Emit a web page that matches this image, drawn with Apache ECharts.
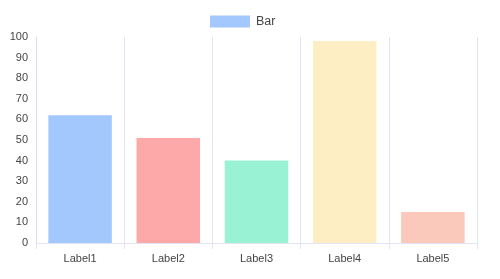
<!DOCTYPE html>
<html><head><meta charset="utf-8">
<script src="https://cdn.jsdelivr.net/npm/echarts@6/dist/echarts.min.js"></script>
<style>html,body{margin:0;padding:0;background:#fff}#c{width:500px;height:279px}</style>
</head><body><div id="c"></div>
<script>
const categories = ['Label1','Label2','Label3','Label4','Label5'];
const values = [62, 51, 40, 98, 15];
const colors = ['#a3c8fe','#fea9a9','#98f2d3','#fdefc3','#fbc9bb'];
const yTicks = [0,10,20,30,40,50,60,70,80,90,100];
const chart = echarts.init(document.getElementById('c'), null, {renderer:'canvas'});
chart.setOption({
  animation:false,
  legend:{top:15,left:210,padding:0,itemWidth:40,itemHeight:12,itemGap:6,
    icon:'rect',
    textStyle:{color:'#444',fontSize:12.5,padding:[0,0,0,1],fontFamily:'Liberation Sans, Arial'},
    data:[{name:'Bar',itemStyle:{color:colors[0]}}]},
  grid:{left:36,right:23,top:37,bottom:36,containLabel:false},
  xAxis:{type:'category',data:categories,
    axisLine:{lineStyle:{color:'#e4e4f6'}},
    axisTick:{show:true,length:6,lineStyle:{color:'#e4e4f6'}},
    splitLine:{show:true,interval:0,lineStyle:{color:'#e4e4f6'}},
    axisLabel:{color:'#444',fontSize:11,margin:10,fontFamily:'Liberation Sans, Arial'}},
  yAxis:{type:'value',min:yTicks[0],max:yTicks[yTicks.length-1],interval:10,
    axisLine:{show:true,lineStyle:{color:'#d8dcf8'}},
    axisTick:{show:false},
    splitLine:{show:false},
    axisLabel:{color:'#444',fontSize:11,margin:8,fontFamily:'Liberation Sans, Arial'}},
  series:[{name:'Bar',type:'bar',barCategoryGap:'28%',
    data:values.map((v,i)=>({value:v,itemStyle:{color:colors[i]}}))}]
});
</script></body></html>
